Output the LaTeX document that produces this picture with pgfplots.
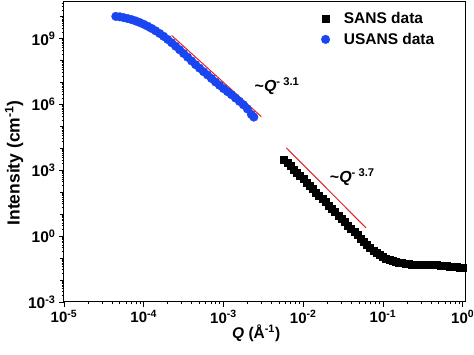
\documentclass[border=0pt]{standalone}
\usepackage{pgfplots}
\pgfplotsset{compat=1.18}
\usepackage{fontspec}
\setmainfont{Liberation Sans}
\definecolor{usblue}{RGB}{25,70,240}
\definecolor{fitred}{RGB}{230,30,30}
\def\minorlistx{}
\foreach \e in {-5,...,-1}{\foreach \m in {2,...,9}{\xdef\minorlistx{\minorlistx\m e\e,}}}
\def\minorlisty{}
\foreach \e in {-3,...,9}{\foreach \m in {2,...,9}{\xdef\minorlisty{\minorlisty\m e\e,}}}
\begin{document}
\begin{tikzpicture}
\begin{axis}[
  name=ax,
  scale only axis,
  width=402pt, height=300.5pt,
  xmode=log, ymode=log,
  xmin=1e-5, xmax=1.1,
  ymin=1e-3, ymax=5e10,
  axis line style={line width=1pt},
  tick style={line width=0.8pt, black},
  tick align=outside,
  xtick pos=bottom, ytick pos=left,
  major tick length=5pt, minor tick length=2.5pt,
  xtick={1e-5,1e-4,1e-3,1e-2,1e-1,1},
  xticklabels={10\textsuperscript{-5},10\textsuperscript{-4},10\textsuperscript{-3},10\textsuperscript{-2},10\textsuperscript{-1},10\textsuperscript{0}},
  minor xtick/.expanded={\minorlistx 9e-1},
  ytick={1e-3,1,1e3,1e6,1e9},
  yticklabels={10\textsuperscript{-3},10\textsuperscript{0},10\textsuperscript{3},10\textsuperscript{6},10\textsuperscript{9}},
  minor ytick/.expanded={\minorlisty 2e10,3e10,4e10},
  extra y ticks={1e-2,1e-1,1e1,1e2,1e4,1e5,1e7,1e8,1e10},
  extra y tick labels={},
  extra y tick style={major tick length=4pt},
  tick label style={font=\fontsize{15.5}{17}\selectfont\bfseries},
  xticklabel style={font=\fontsize{15}{17}\selectfont\bfseries},
  every axis x label/.style={at={(axis description cs:0.478,0)}, anchor=center, yshift=-31pt,
    font=\fontsize{15.5}{17}\selectfont\bfseries},
  every axis y label/.style={at={([xshift=-50pt]axis description cs:0,0.463)}, rotate=90, anchor=center,
    font=\fontsize{17.5}{19}\selectfont\bfseries},
  xlabel={\textit{Q} (Å\textsuperscript{-1})},
  ylabel={Intensity (cm\textsuperscript{-1})},
  legend style={draw=none, fill=none, at={(0.632,0.978)}, anchor=north west,
    font=\fontsize{15.5}{17}\selectfont\bfseries, row sep=4pt,
    /tikz/every odd column/.append style={column sep=12pt}},
  legend cell align=left,
]
\addplot[only marks, mark=square*, mark size=3.5pt, black] coordinates {
(5.754e-3,3162) (6.310e-3,2239) (6.918e-3,1585) (7.586e-3,1122) (8.318e-3,794.3)
(9.120e-3,562.3) (1.0e-2,398.1) (1.096e-2,281.8) (1.202e-2,199.5) (1.318e-2,141.3)
(1.445e-2,100) (1.585e-2,70.79) (1.738e-2,50.12) (1.905e-2,35.48) (2.089e-2,25.12)
(2.291e-2,17.78) (2.512e-2,12.59) (2.754e-2,8.913) (3.020e-2,6.310) (3.311e-2,4.467)
(3.631e-2,3.162) (3.981e-2,2.239) (4.365e-2,1.585) (4.786e-2,1.122) (5.248e-2,0.7943)
(5.754e-2,0.5623) (6.310e-2,0.3981) (6.918e-2,0.2951) (7.586e-2,0.2239) (8.318e-2,0.1738)
(9.120e-2,0.1380) (0.1,0.1148) (0.1096,0.09772) (0.1202,0.08511) (0.1318,0.07586)
(0.1445,0.06918) (0.1585,0.06310) (0.1738,0.05888) (0.1905,0.05623) (0.2089,0.05370)
(0.2291,0.05248) (0.2512,0.05129) (0.2754,0.05012) (0.3020,0.05012) (0.3311,0.05012)
(0.3631,0.05012) (0.3981,0.04898) (0.4365,0.04898) (0.4786,0.04786) (0.5248,0.04677)
(0.5754,0.04571) (0.6310,0.04467) (0.6918,0.04266) (0.7586,0.04074) (0.8318,0.03890)
(0.9120,0.03715) (1.0,0.03548)
};
\addlegendentry{SANS data}
\addplot[only marks, mark=*, mark size=4.3pt, usblue, mark options={draw=usblue, fill=usblue}] coordinates {
(4.467e-5,1.047e10) (5.012e-5,1.0e10) (5.623e-5,9.12e9) (6.310e-5,8.32e9) (7.079e-5,7.41e9)
(7.943e-5,6.46e9) (8.913e-5,5.50e9) (1.0e-4,4.57e9) (1.122e-4,3.72e9) (1.259e-4,2.95e9)
(1.413e-4,2.29e9) (1.585e-4,1.74e9) (1.778e-4,1.29e9) (1.995e-4,9.33e8) (2.239e-4,6.61e8)
(2.512e-4,4.57e8) (2.818e-4,3.16e8) (3.162e-4,2.14e8) (3.548e-4,1.45e8) (3.981e-4,9.77e7)
(4.467e-4,6.61e7) (5.012e-4,4.57e7) (5.623e-4,3.16e7) (6.310e-4,2.24e7) (7.079e-4,1.55e7)
(7.943e-4,1.07e7) (8.913e-4,7.59e6) (1.0e-3,5.37e6) (1.122e-3,3.89e6) (1.259e-3,2.82e6)
(1.413e-3,2.0e6) (1.585e-3,1.41e6) (1.778e-3,9.77e5) (1.995e-3,6.31e5) (2.239e-3,3.55e5)
(2.4e-3,2.7e5)
};
\addlegendentry{USANS data}
\addplot[fitred, line width=1pt, forget plot] coordinates {(2.239e-4,1.413e9) (2.985e-3,2.818e5)};
\addplot[fitred, line width=1pt, forget plot] coordinates {(6.13e-3,1.07e4) (6.13e-2,2.39)};
\node[anchor=base west, font=\fontsize{16}{18}\selectfont\bfseries, inner sep=0pt] at (axis cs:2.45e-3,3.9e6) {\textasciitilde\textit{Q}\textsuperscript{- 3.1}};
\node[anchor=base west, font=\fontsize{16}{18}\selectfont\bfseries, inner sep=0pt] at (axis cs:2.15e-2,270) {\textasciitilde\textit{Q}\textsuperscript{- 3.7}};
\end{axis}
\pgfresetboundingbox
\path ([xshift=-64pt,yshift=-53pt]ax.south west) rectangle ([xshift=8pt,yshift=1.5pt]ax.north east);
\end{tikzpicture}
\end{document}
